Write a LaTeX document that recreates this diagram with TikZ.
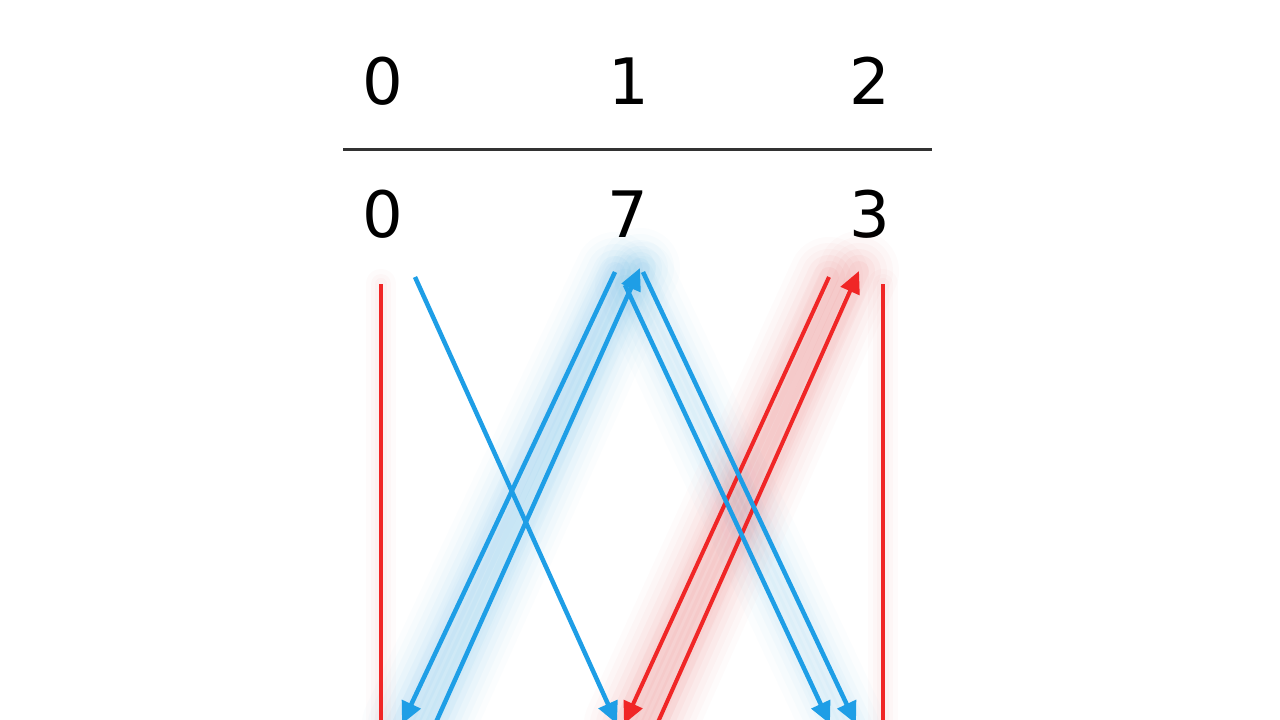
\documentclass[tikz,border=0pt]{standalone}
\usepackage{fontspec}
\setmainfont{DejaVu Sans}
\usetikzlibrary{arrows.meta}
\definecolor{ablue}{RGB}{30,158,230}
\definecolor{ared}{RGB}{240,38,38}
\definecolor{rulegray}{RGB}{50,50,50}
\tikzset{
  digit/.style={font=\fontsize{64}{64}\selectfont, text=black, inner sep=0pt},
  bline/.style={draw=ablue, line width=4.5pt},
  rline/.style={draw=ared, line width=4pt},
  tipend/.style={-{Triangle[length=22pt,width=20pt]}},
}
\newcommand{\glowline}[4]{%
  \foreach \w/\o in {#4}{%
    \draw[#1, line width=\w pt, opacity=\o, line cap=round] (#2) -- (#3);
  }%
}
\begin{document}
\begin{tikzpicture}[x=1pt,y=-1pt]
\useasboundingbox (0,0) rectangle (1280,720);
\fill[white] (0,0) rectangle (1280,720);
\clip (0,0) rectangle (1280,720);

% digits
\node[digit] (t0) at (383,81) {0};
\node[digit] (t1) at (629,81) {1};
\node[digit] (t2) at (870,81) {2};
\node[digit] (b0) at (383,214) {0};
\node[digit] (b7) at (628,214) {7};
\node[digit] (b3) at (870,214) {3};

% rule
\coordinate (rl) at (343,149);
\coordinate (rr) at (932,149);
\draw[rulegray, line width=3pt] (rl) -- (rr);

% endpoints
\coordinate (v1t) at (381,284); \coordinate (v1b) at (381,740);
\coordinate (v2t) at (883,284); \coordinate (v2b) at (883,740);
\coordinate (at) at (415,277);  \coordinate (ab) at (617,724);
\coordinate (b1t) at (615,272); \coordinate (b1b) at (402,724);
\coordinate (b2t) at (640,268); \coordinate (b2b) at (428,740);
\coordinate (c1t) at (625,285); \coordinate (c1b) at (830,724);
\coordinate (c2t) at (643,272); \coordinate (c2b) at (856,724);
\coordinate (d1t) at (829,277); \coordinate (d1b) at (624,724);
\coordinate (d2t) at (859,271); \coordinate (d2b) at (650,740);

% glows
\glowline{ablue}{b1t}{b1b}{80/0.015,68/0.02,56/0.025,44/0.03,32/0.035,20/0.04}
\glowline{ablue}{b2t}{b2b}{80/0.015,68/0.02,56/0.025,44/0.03,32/0.035,20/0.04}
\glowline{ablue}{c1t}{c1b}{60/0.015,46/0.02,32/0.025,20/0.03}
\glowline{ablue}{c2t}{c2b}{60/0.015,46/0.02,32/0.025,20/0.03}
\glowline{ared}{d1t}{d1b}{80/0.015,68/0.02,56/0.025,44/0.03,32/0.035,20/0.04}
\glowline{ared}{d2t}{d2b}{80/0.015,68/0.02,56/0.025,44/0.03,32/0.035,20/0.04}
\glowline{ared}{v1t}{v1b}{30/0.015,20/0.02,12/0.025}
\glowline{ared}{v2t}{v2b}{30/0.015,20/0.02,12/0.025}

% red lines
\draw[rline] (v1t) -- (v1b);
\draw[rline] (v2t) -- (v2b);
\draw[rline, tipend] (d1t) -- (d1b);
\draw[rline, tipend] (d2b) -- (d2t);

% blue lines
\draw[bline, tipend] (at) -- (ab);
\draw[bline, tipend] (b1t) -- (b1b);
\draw[bline, tipend] (b2b) -- (b2t);
\draw[bline, tipend] (c1t) -- (c1b);
\draw[bline, tipend] (c2t) -- (c2b);
\end{tikzpicture}
\end{document}
